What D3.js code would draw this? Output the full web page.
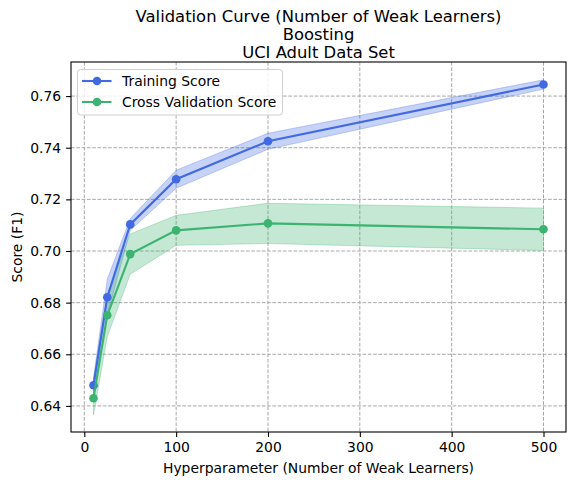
<!DOCTYPE html>
<html>
<head>
<meta charset="utf-8">
<script src="https://cdn.jsdelivr.net/npm/d3@7"></script>
<style>
  body { margin: 0; background: #fff; }
  svg text { font-family: "DejaVu Sans", sans-serif; fill: #000; }
</style>
</head>
<body>
<svg width="576" height="485"></svg>
<script>
// values
var learners = [10, 25, 50, 100, 200, 500];
var trainMean = [0.6480, 0.6821, 0.7103, 0.7278, 0.7425, 0.7645];
var trainStd  = [0.0030, 0.0070, 0.0023, 0.0035, 0.0031, 0.0018];
var cvMean    = [0.6430, 0.6751, 0.6988, 0.7080, 0.7107, 0.7084];
var cvStd     = [0.0065, 0.0083, 0.0078, 0.0058, 0.0078, 0.0082];
var xTicks = [0, 100, 200, 300, 400, 500];
var yTicks = [0.64, 0.66, 0.68, 0.70, 0.72, 0.74, 0.76];
var titleLines = ["Validation Curve (Number of Weak Learners)", "Boosting", "UCI Adult Data Set"];

var svg = d3.select('svg');
var pLeft = 71, pRight = 566, pTop = 62, pBottom = 432;

var x = d3.scaleLinear().domain([-14.5, 524.5]).range([pLeft, pRight]);
var y = d3.scaleLinear().domain([0.6299, 0.7732]).range([pBottom, pTop]);

var series = [
  {name: 'Training Score', color: '#4169e1', mean: trainMean, std: trainStd},
  {name: 'Cross Validation Score', color: '#3cb371', mean: cvMean, std: cvStd}
];

// grid
var grid = svg.append('g').attr('stroke', '#a8a8a8').attr('stroke-width', 1).attr('stroke-dasharray', '3.7,1.6');
xTicks.forEach(t => grid.append('line').attr('x1', x(t)).attr('x2', x(t)).attr('y1', pTop).attr('y2', pBottom));
yTicks.forEach(t => grid.append('line').attr('x1', pLeft).attr('x2', pRight).attr('y1', y(t)).attr('y2', y(t)));

// bands
series.forEach(s => {
  var pts = learners.map((l, i) => ({x: l, m: s.mean[i], sd: s.std[i]}));
  var area = d3.area().x(d => x(d.x)).y0(d => y(d.m - d.sd)).y1(d => y(d.m + d.sd));
  svg.append('path').datum(pts).attr('d', area)
    .attr('fill', s.color).attr('fill-opacity', 0.3)
    .attr('stroke', s.color).attr('stroke-opacity', 0.3).attr('stroke-width', 1);
});

// lines and markers
series.forEach(s => {
  var pts = learners.map((l, i) => ({x: l, m: s.mean[i]}));
  var line = d3.line().x(d => x(d.x)).y(d => y(d.m));
  svg.append('path').datum(pts).attr('d', line)
    .attr('fill', 'none').attr('stroke', s.color).attr('stroke-width', 2.1);
  svg.selectAll(null).data(pts).enter().append('circle')
    .attr('cx', d => x(d.x)).attr('cy', d => y(d.m)).attr('r', 4.3)
    .attr('fill', s.color);
});

// axes
var xAxis = svg.append('g').attr('transform', 'translate(0,' + pBottom + ')')
  .call(d3.axisBottom(x).tickValues(xTicks).tickSize(4.9).tickPadding(4.9).tickFormat(d3.format('d')));
var yAxis = svg.append('g').attr('transform', 'translate(' + pLeft + ',0)')
  .call(d3.axisLeft(y).tickValues(yTicks).tickSize(4.9).tickPadding(4.9).tickFormat(d3.format('.2f')));
[xAxis, yAxis].forEach(a => {
  a.select('.domain').remove();
  a.selectAll('line').attr('stroke', '#000').attr('stroke-width', 1.1);
  a.selectAll('text').style('font-size', '13.9px').style('font-family', '"DejaVu Sans", sans-serif');
});

svg.append('rect').attr('x', pLeft).attr('y', pTop).attr('width', pRight - pLeft).attr('height', pBottom - pTop)
  .attr('fill', 'none').attr('stroke', '#000').attr('stroke-width', 1.1);

// labels
svg.append('text').attr('x', (pLeft + pRight) / 2).attr('y', 473).attr('text-anchor', 'middle')
  .style('font-size', '13.9px').text('Hyperparameter (Number of Weak Learners)');
svg.append('text').attr('transform', 'translate(22,' + ((pTop + pBottom) / 2) + ') rotate(-90)')
  .attr('text-anchor', 'middle').style('font-size', '13.9px').text('Score (F1)');

svg.append('g').selectAll('text').data(titleLines).enter().append('text')
  .attr('x', (pLeft + pRight) / 2).attr('y', (d, i) => 21.5 + i * 18.3)
  .attr('text-anchor', 'middle').style('font-size', '16.4px').text(d => d);

// legend
var lg = svg.append('g');
lg.append('rect').attr('x', 77.5).attr('y', 69.5).attr('width', 205).attr('height', 45.5).attr('rx', 3)
  .attr('fill', '#fff').attr('fill-opacity', 0.8).attr('stroke', '#d0d0d0');
series.forEach((s, i) => {
  var ly = 81 + i * 21;
  lg.append('line').attr('x1', 82).attr('x2', 111.5).attr('y1', ly).attr('y2', ly)
    .attr('stroke', s.color).attr('stroke-width', 2.1);
  lg.append('circle').attr('cx', 97).attr('cy', ly).attr('r', 4.3).attr('fill', s.color);
  lg.append('text').attr('x', 122).attr('y', ly + 5).style('font-size', '13.9px').text(s.name);
});
</script>
</body>
</html>
